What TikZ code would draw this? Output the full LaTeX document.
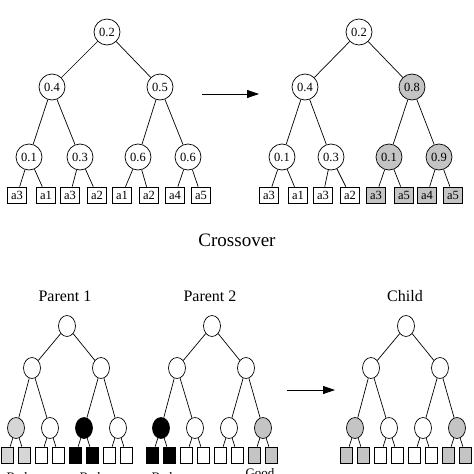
\documentclass[tikz,border=0pt]{standalone}
\usepackage{fontspec}
\setmainfont{Liberation Serif}
\usetikzlibrary{arrows.meta,shapes.geometric}
\definecolor{shade}{HTML}{C4C4C4}
\definecolor{shadelt}{HTML}{D6D6D6}
\tikzset{
  fitnode/.style={draw, circle, fill=white, minimum size=26pt, inner sep=0pt,
                  line width=0.7pt, font=\fontsize{12.5}{14}\selectfont},
  termbox/.style={draw, rectangle, fill=white, minimum width=19pt, minimum height=16pt,
                  inner sep=1pt, line width=0.7pt, font=\fontsize{12.5}{14}\selectfont},
  hit/.style={fill=shade},
  plain/.style={},
  blob/.style={draw, ellipse, fill=white, minimum width=17pt, minimum height=21pt,
               inner sep=0pt, line width=0.7pt},
  sq/.style={draw, rectangle, minimum width=12pt, minimum height=16pt, inner sep=0pt,
             line width=0.7pt},
  edge/.style={line width=0.7pt},
  ar/.style={-{Triangle[length=12pt,width=8pt]}, line width=0.8pt},
  title/.style={font=\fontsize{16}{18}\selectfont},
  note/.style={anchor=base, font=\fontsize{13}{15}\selectfont}
}

\begin{document}
\begin{tikzpicture}[x=1pt,y=-1pt]
  \useasboundingbox (0,0) rectangle (474,474);

  % before mutation
  \foreach \n/\x/\y/\t in {1/107/32/0.2, 2/52/87/0.4, 3/160/87/0.5, 4/29/157/0.1,
                           5/80/157/0.3, 6/138/157/0.6, 7/188/157/0.6} {
     \node[fitnode] (a\n) at (\x,\y) {\t};
  }
  \foreach \n/\x/\t in {8/17/a3, 9/46/a1, 10/70/a3, 11/97/a2,
                        12/122/a1, 13/149/a2, 14/175/a4, 15/201/a5} {
     \node[termbox] (a\n) at (\x,195) {\t};
  }

  % after mutation
  \foreach \n/\x/\y/\t/\s in {1/359/32/0.2/plain, 2/305/87/0.4/plain, 3/412/87/0.8/hit,
                              4/282/157/0.1/plain, 5/331/157/0.3/plain,
                              6/389/157/0.1/hit, 7/439/157/0.9/hit} {
     \node[fitnode, \s] (b\n) at (\x,\y) {\t};
  }
  \foreach \n/\x/\t/\s in {8/269/a3/plain, 9/298/a1/plain, 10/323/a3/plain, 11/350/a2/plain,
                           12/376/a3/hit, 13/404/a5/hit, 14/427/a4/hit, 15/453/a5/hit} {
     \node[termbox, \s] (b\n) at (\x,195) {\t};
  }

  \foreach \tr in {a,b} {
    \foreach \p in {1,...,7} {
      \pgfmathtruncatemacro\cl{2*\p}
      \pgfmathtruncatemacro\cr{2*\p+1}
      \draw[edge] (\tr\p) -- (\tr\cl);
      \draw[edge] (\tr\p) -- (\tr\cr);
    }
  }

  \coordinate (m0) at (202,94);
  \coordinate (m1) at (259,94);
  \draw[ar] (m0) -- (m1);

  \node[font=\fontsize{19}{22}\selectfont] (xo) at (237,240) {Crossover};

  % parents and child
  \node[title] (tp) at (65,296) {Parent 1};
  \node[title] (tq) at (210,296) {Parent 2};
  \node[title] (tc) at (405,296) {Child};

  \foreach \tr/\dx/\fd/\fe/\ff/\fg in {p/0/shadelt/white/black/white,
                                        q/145/black/white/white/shade,
                                        c/339/shade/white/white/shade} {
    \begin{scope}[xshift=\dx]
      \node[blob] (\tr1) at (67,326) {};
      \node[blob] (\tr2) at (32,368) {};
      \node[blob] (\tr3) at (101,368) {};
      \foreach \n/\x/\f in {4/16/\fd, 5/50/\fe, 6/84/\ff, 7/118/\fg} {
         \node[blob, fill=\f] (\tr\n) at (\x,428) {};
      }
      \foreach \n/\x/\f in {8/7.5/\fd, 9/24.5/\fd, 10/41.5/\fe, 11/58.5/\fe,
                            12/75.5/\ff, 13/92.5/\ff, 14/109.5/\fg, 15/126.5/\fg} {
         \node[sq, fill=\f] (\tr\n) at (\x,455) {};
      }
      \foreach \p in {1,...,7} {
        \pgfmathtruncatemacro\cl{2*\p}
        \pgfmathtruncatemacro\cr{2*\p+1}
        \draw[edge] (\tr\p) -- (\tr\cl);
        \draw[edge] (\tr\p) -- (\tr\cr);
      }
    \end{scope}
  }

  \coordinate (n0) at (287,390);
  \coordinate (n1) at (335,390);
  \draw[ar] (n0) -- (n1);

  % labels run off the bottom edge, as in the source
  \node[note] (g1) at (17,481) {Bad};
  \node[note] (g2) at (90,481) {Bad};
  \node[note] (g3) at (162,481) {Bad};
  \node[note] (g4) at (260,477) {Good};
\end{tikzpicture}
\end{document}
